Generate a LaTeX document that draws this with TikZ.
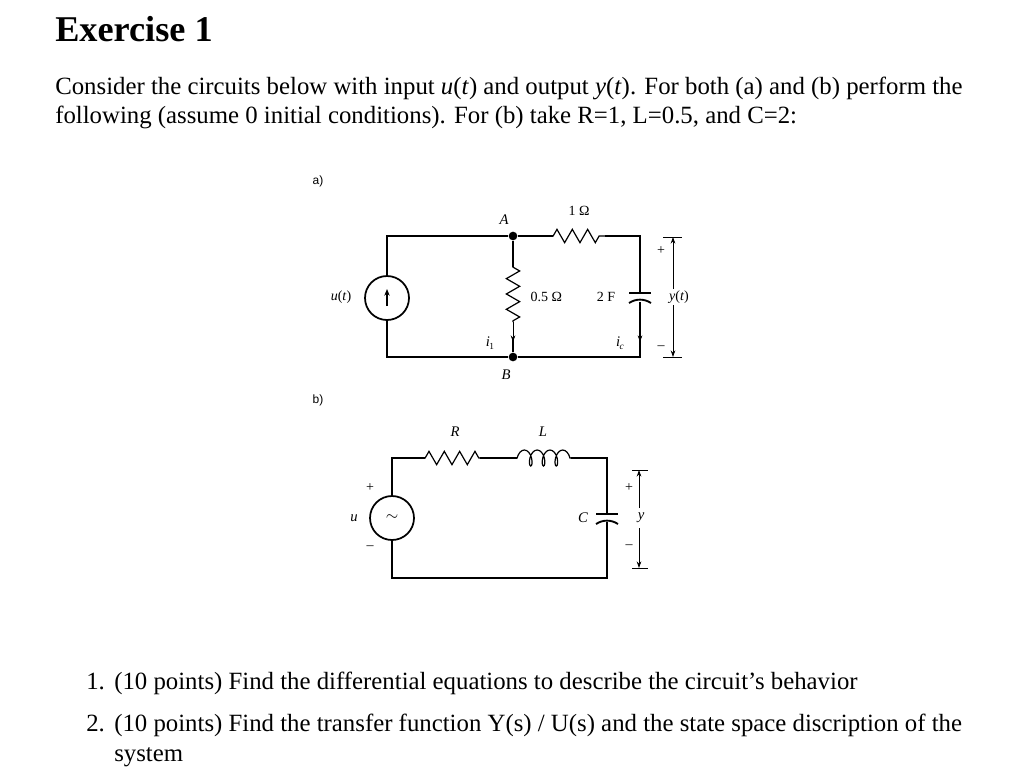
\documentclass[tikz,border=0pt]{standalone}
\usepackage{fontspec}
\setmainfont{Liberation Serif}
\newfontfamily\labsf{Liberation Sans}
\usetikzlibrary{decorations.pathmorphing,decorations.pathreplacing,arrows.meta}
\begin{document}
\begin{tikzpicture}[x=0.75pt,y=-0.75pt,
  wire/.style={line width=0.9pt},
  res/.style={line width=0.9pt,decorate,decoration={zigzag,segment length=11.5pt,amplitude=5pt,pre length=0.1pt,post length=0.1pt}},
  ind/.style={line width=0.9pt,decorate,decoration={coil,aspect=0.5,segment length=9.6pt,amplitude=6pt,pre length=0.1pt,post length=0.1pt}},
  body/.style={anchor=base west,inner sep=0,font=\fontsize{18.6}{22}\selectfont},
  clab/.style={inner sep=1pt,font=\fontsize{10.5}{12}\selectfont},
  dot/.style={circle,fill,inner sep=0,minimum size=6.5pt},
  src/.style={circle,draw,line width=1.3pt,minimum size=33pt,inner sep=0},
  tick/.style={line width=0.7pt},
  cur/.style={-{Stealth[length=5pt,width=3.5pt]},line width=0.6pt}]
\useasboundingbox (0,0) rectangle (1024,775);
% text
\node[anchor=base west,inner sep=0,font=\fontsize{27.2}{30}\selectfont\bfseries] (title) at (55,41) {Exercise 1};
\node[body] (p1) at (55,94) {Consider the circuits below with input \textit{u}(\textit{t}) and output \textit{y}(\textit{t}). For both (a) and (b) perform the};
\node[body] (p2) at (55,123) {following (assume 0 initial conditions). For (b) take R=1, L=0.5, and C=2:};
\node[body] (n1) at (86,689) {1.};
\node[body] (i1) at (114,689) {(10 points) Find the differential equations to describe the circuit’s behavior};
\node[body] (n2) at (86,731) {2.};
\node[body] (i2) at (114,731) {(10 points) Find the transfer function Y(s) / U(s) and the state space discription of the};
\node[body] (i3) at (114,761) {system};
\node[font=\labsf\fontsize{9}{10}\selectfont] (la) at (318,181) {a)};
\node[font=\labsf\fontsize{9}{10}\selectfont] (lb) at (318,400) {b)};
% circuit a
\coordinate (TL) at (387,236); \coordinate (BL) at (387,357);
\node[dot] (A) at (513,236) {}; \node[dot] (B) at (513,357) {};
\coordinate (TR) at (640,236); \coordinate (BR) at (640,357);
\node[src] (S) at (387,298) {};
\draw[-{Stealth[length=5pt,width=4pt]},line width=0.9pt] (387,306) -- (387,289);
\coordinate (R1a) at (553,236); \coordinate (R1b) at (605,236);
\coordinate (R2a) at (513,267); \coordinate (R2b) at (513,322);
\coordinate (C1) at (640,293); \coordinate (C2) at (640,302);
\draw[wire] (S.south) -- (BL) -- (B) -- (BR) -- (C2);
\draw[wire] (S.north) -- (TL) -- (A) -- (R1a);
\draw[res] (R1a) -- (R1b);
\draw[wire] (R1b) -- (TR) -- (C1);
\draw[wire] (A) -- (R2a);
\draw[res] (R2a) -- (R2b);
\draw[cur] (R2b) -- (513,342);
\draw[wire] (513,340) -- (B);
\draw[line width=1.4pt] (629,293) -- (651,293);
\draw[line width=1.4pt] (629,303) .. controls (636,298.5) and (644,298.5) .. (651,303);
\draw[cur] (640,325) -- (640,342);
\draw[tick] (663,237) -- (682,237) (663,357) -- (682,357);
\coordinate (YT) at (673,237); \coordinate (YB) at (673,357);
\node[clab] (yt) at (679,297) {\textit{y}(\textit{t})};
\draw[cur] (yt.north -| YT) -- (YT);
\draw[cur] (yt.south -| YT) -- (YB);
\node[clab] at (661,251) {+};
\node[clab] at (661,348) {--};
\node[clab] at (341,297) {\textit{u}(\textit{t})};
\node[clab,font=\fontsize{11}{12}\itshape] at (504,220) {A};
\node[clab,font=\fontsize{11}{12}\itshape] at (506,375) {B};
\node[clab] at (579,211) {1 Ω};
\node[clab,anchor=west] at (529,297) {0.5 Ω};
\node[clab] at (606,297) {2 F};
\node[clab,font=\fontsize{11}{12}\itshape] at (490,343) {i\kern-0.5pt\raisebox{-2pt}{\fontsize{7}{7}\upshape 1}};
\node[clab,font=\fontsize{11}{12}\itshape] at (620,343) {i\kern-0.5pt\raisebox{-2pt}{\fontsize{7}{7}\selectfont c}};
% circuit b
\node[src] (S2) at (392,518) {\fontsize{12}{12}\selectfont$\sim$};
\coordinate (bTL) at (392,458); \coordinate (bBL) at (392,578);
\coordinate (bTR) at (607,458); \coordinate (bBR) at (607,578);
\coordinate (Ra) at (425,458); \coordinate (Rb) at (480,458);
\coordinate (La) at (517,458); \coordinate (Lb) at (571,458);
\coordinate (bC1) at (607,514); \coordinate (bC2) at (607,522);
\draw[wire] (S2.north) -- (bTL) -- (Ra);
\draw[res] (Ra) -- (Rb);
\draw[wire] (Rb) -- (La);
\draw[ind] (La) -- (Lb);
\draw[wire] (Lb) -- (bTR) -- (bC1);
\draw[wire] (bC2) -- (bBR) -- (bBL) -- (S2.south);
\draw[line width=1.4pt] (596,514) -- (618,514);
\draw[line width=1.4pt] (596,524) .. controls (603,519.5) and (611,519.5) .. (618,524);
\draw[tick] (632,470) -- (648,470) (632,568) -- (648,568);
\coordinate (bYT) at (639,470); \coordinate (bYB) at (639,568);
\node[clab,font=\fontsize{11}{12}\itshape] (yb) at (641,518) {y};
\draw[cur] (639,508) -- (bYT);
\draw[cur] (639,528) -- (bYB);
\node[clab] at (629,488) {+}; \node[clab] at (629,547) {--};
\node[clab] at (370,488) {+}; \node[clab] at (370,548) {--};
\node[clab,font=\fontsize{11}{12}\itshape] at (354,518) {u};
\node[clab,font=\fontsize{11}{12}\itshape] at (455,432) {R};
\node[clab,font=\fontsize{11}{12}\itshape] at (543,432) {L};
\node[clab,font=\fontsize{11}{12}\itshape] at (583,518) {C};
\end{tikzpicture}
\end{document}
